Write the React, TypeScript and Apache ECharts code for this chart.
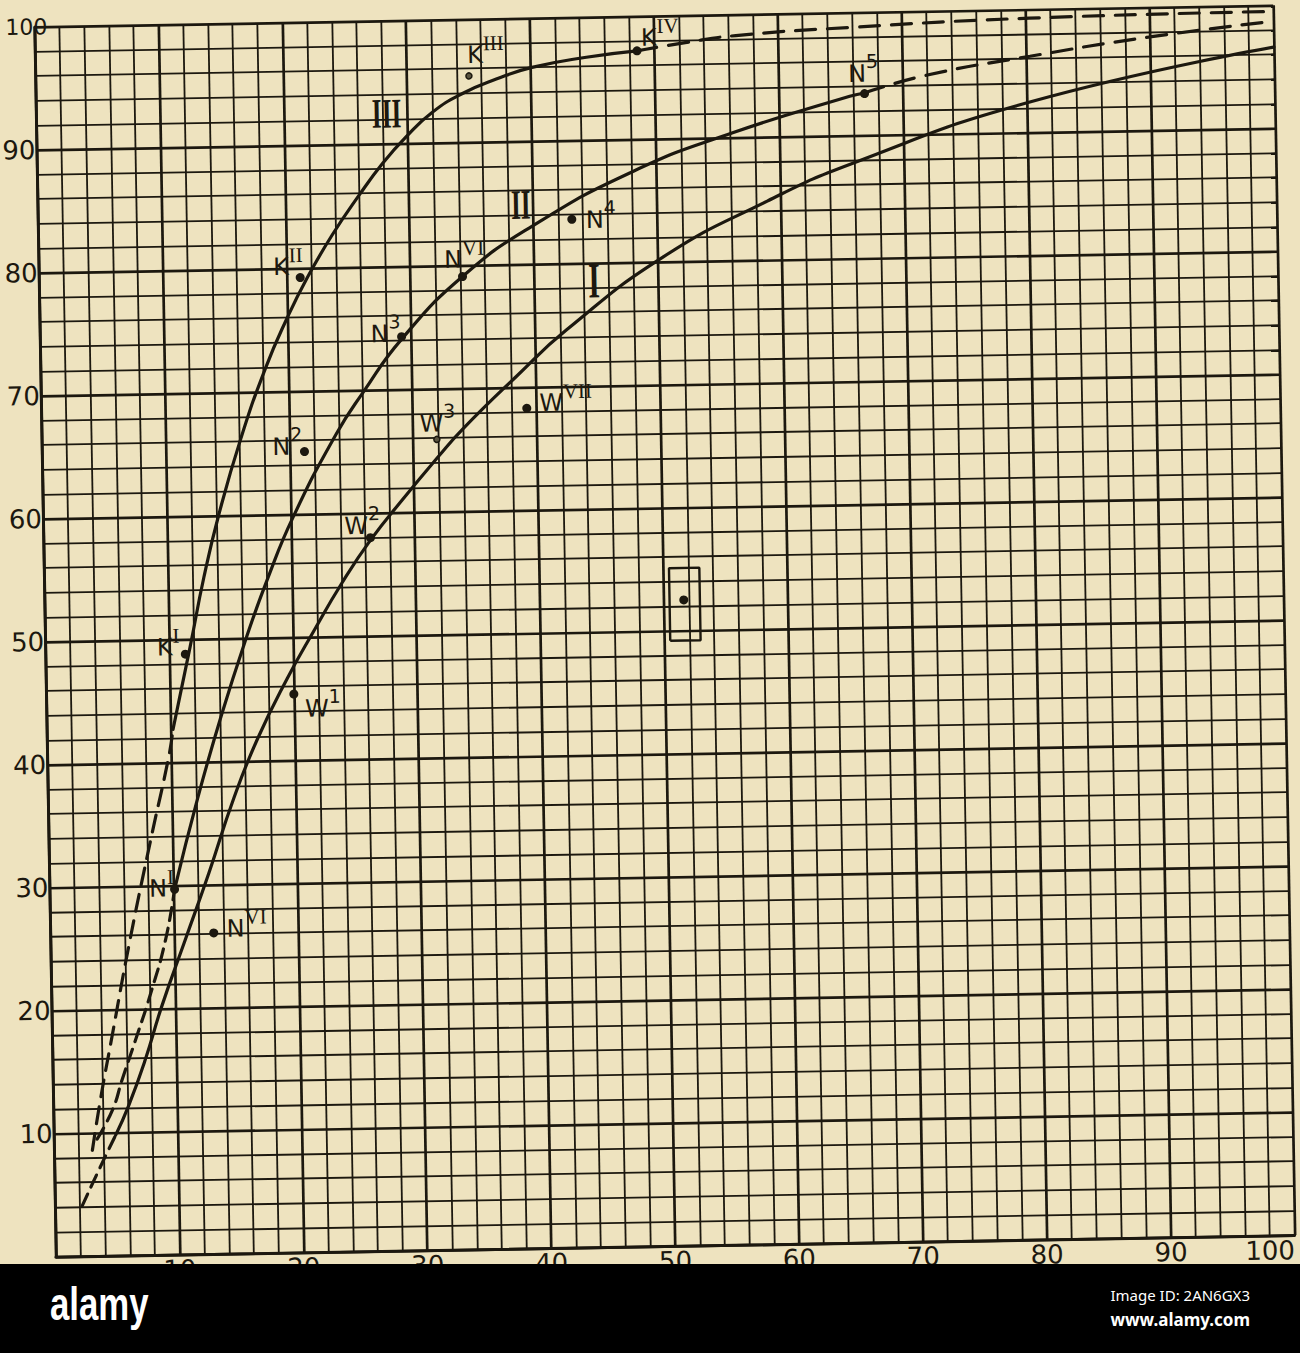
import React, { useEffect, useRef } from "react";
import * as echarts from "echarts";

// ---------- data ----------
const AXIS_MIN = 0;
const AXIS_MAX = 100;
const AXIS_STEP = 10;

// curve III
const CURVE_III_SOLID: [number, number][] = [
  [10.2, 42.7], [11.7, 49.4], [12.9, 55.0], [14.2, 60.1], [16.1, 66.3], [18.2, 72.0],
  [20.0, 76.0], [21.6, 79.1], [23.7, 82.6], [26.0, 85.9], [27.9, 88.4], [29.8, 90.5],
  [32.0, 92.5], [34.5, 94.0], [37.2, 95.1], [40.1, 96.0], [44.5, 96.75], [48.6, 97.2],
];
const CURVE_III_DASH_LOW: [number, number][] = [
  [3.1, 8.6], [3.8, 12.6], [4.8, 17.6], [6.4, 25.5], [8.3, 34.0], [9.8, 40.4], [10.2, 42.7],
];
const CURVE_III_DASH_HIGH: [number, number][] = [
  [48.6, 97.2], [52.5, 97.8], [56.6, 98.3], [65.8, 98.8], [80.3, 99.3], [100, 99.5],
];

// curve II
const CURVE_II_SOLID: [number, number][] = [
  [10.1, 29.7], [12.1, 37.1], [14.1, 43.7], [16.3, 50.2], [18.0, 54.7], [20.2, 59.8],
  [23.8, 66.5], [26.0, 69.8], [29.2, 74.1], [34.2, 79.1], [39.9, 83.1], [48.1, 87.4],
  [56.2, 90.4], [65.7, 93.2], [66.9, 93.45],
];
const CURVE_II_DASH_LOW: [number, number][] = [
  [3.5, 9.5], [4.8, 11.9], [5.6, 14.3], [6.7, 17.4], [8.1, 21.5], [9.3, 25.6], [10.1, 29.7],
];
const CURVE_II_DASH_HIGH: [number, number][] = [
  [66.9, 93.45], [71.9, 94.8], [80.3, 96.2], [90.0, 97.6], [100, 98.7],
];

// curve I
const CURVE_I_SOLID: [number, number][] = [
  [5.0, 9.8], [6.1, 12.2], [7.5, 15.9], [8.9, 20.2], [10.9, 25.6], [12.9, 31.0],
  [15.0, 37.0], [17.0, 41.8], [19.5, 46.7], [21.7, 50.5], [24.0, 54.3], [26.4, 57.8],
  [29.0, 61.0], [32.0, 64.5], [34.0, 66.7], [38.4, 70.9], [42.5, 74.6], [50.4, 80.4],
  [58.9, 84.8], [65.7, 87.7], [80.3, 92.5], [100, 96.6],
];
const CURVE_I_DASH_LOW: [number, number][] = [[2.2, 4.1], [3.6, 7.0], [5.0, 9.8]];

// observation points
const POINT_LETTER = ["K", "K", "K", "K", "N", "N", "N", "N", "N", "N", "N", "W", "W", "W", "W", ""];
const POINT_SUP = ["I", "II", "III", "IV", "I", "VI", "2", "3", "VI", "4", "5", "1", "2", "3", "VII", ""];
const POINT_X = [11.3, 21.1, 35.0, 48.6, 10.1, 13.2, 21.2, 29.2, 34.2, 43.1, 66.9, 20.0, 26.4, 31.9, 39.2, 51.6];
const POINT_Y = [48.8, 79.25, 95.4, 97.2, 29.7, 26.1, 65.1, 74.3, 79.1, 83.6, 93.4, 45.4, 58.0, 65.9, 68.3, 52.5];

// small framed rectangle around the lone point
const BOX_X = [50.45, 52.9];
const BOX_Y = [49.2, 55.1];

// curve names
const CURVE_LABEL_TEXT = ["III", "II", "I"];
const CURVE_LABEL_X = [28.3, 39.0, 44.8];
const CURVE_LABEL_Y = [92.5, 84.9, 78.6];

// ---------- styles / layout (kept apart from data) ----------
const PAPER = "#EEE3BF";
const INK = "#1c180f";
const LABEL_OFFSET: [number, number][] = [
  [-17, -15], [-12, -19], [17, -29], [23, -21], [-13, -9], [33, -12], [-17, -13], [-16, -11],
  [2, -25], [29, -7], [-1, -28], [29, 7], [-8, -20], [1, -24], [39, -13], [0, 0],
];
const SMALL_DOT = [false, false, true, false, false, false, false, false, false, false, false, false, false, true, false, false];
const CURVE_LABEL_SIZE = [42, 42, 50];

function axis(isX: boolean) {
  return {
    type: "value",
    min: AXIS_MIN,
    max: AXIS_MAX,
    interval: AXIS_STEP,
    axisLine: { show: true, onZero: false, lineStyle: { color: INK, width: 3 } },
    axisTick: { show: false },
    axisLabel: {
      show: true,
      color: INK,
      fontFamily: "DejaVu Sans",
      fontSize: 26,
      margin: isX ? 2 : 1,
      alignMaxLabel: isX ? "right" : undefined,
      formatter: (v: number) => {
        if (v === 0) return "";
        if (!isX && v === AXIS_MAX) return `{top|${v}}`;
        return String(v);
      },
      rich: {
        top: { fontFamily: "DejaVu Sans", fontSize: 22, color: INK, width: 28, align: "left" },
      },
    },
    splitLine: { show: true, lineStyle: { color: INK, width: 2.7 } },
    minorTick: { show: false, splitNumber: 5 },
    minorSplitLine: { show: true, lineStyle: { color: INK, width: 1.8 } },
  };
}

function lineSeries(name: string, data: [number, number][], dash?: number[]) {
  return {
    type: "line",
    name,
    data,
    symbol: "none",
    showSymbol: false,
    smooth: 0.5,
    silent: true,
    clip: false,
    lineStyle: { color: INK, width: 3.2, type: dash ? dash : "solid", cap: "round", opacity: 1 },
    z: 3,
  };
}

function buildMainOption() {
  const points = POINT_X.map((x, i) => ({
    value: [x, POINT_Y[i]],
    letter: POINT_LETTER[i],
    sup: POINT_SUP[i],
    symbolSize: SMALL_DOT[i] ? 6 : 9,
    itemStyle: SMALL_DOT[i]
      ? { color: "#5a5440", borderColor: INK, borderWidth: 1.5, opacity: 1 }
      : { color: INK, opacity: 1 },
    label: { offset: [LABEL_OFFSET[i][0], LABEL_OFFSET[i][1] + 3] },
  }));

  const box: [number, number][] = [
    [BOX_X[0], BOX_Y[0]],
    [BOX_X[1], BOX_Y[0]],
    [BOX_X[1], BOX_Y[1]],
    [BOX_X[0], BOX_Y[1]],
    [BOX_X[0], BOX_Y[0]],
  ];

  const richBase = { color: INK, textBorderWidth: 0, textShadowBlur: 0 };

  return {
    animation: false,
    backgroundColor: "transparent",
    grid: { left: 45, top: 16, width: 1239, height: 1230 },
    xAxis: axis(true),
    yAxis: axis(false),
    series: [
      lineSeries("III", CURVE_III_SOLID),
      lineSeries("III low", CURVE_III_DASH_LOW, [17, 10]),
      lineSeries("III high", CURVE_III_DASH_HIGH, [20, 12]),
      lineSeries("II", CURVE_II_SOLID),
      lineSeries("II low", CURVE_II_DASH_LOW, [13, 8]),
      lineSeries("II high", CURVE_II_DASH_HIGH, [20, 12]),
      lineSeries("I", CURVE_I_SOLID),
      lineSeries("I low", CURVE_I_DASH_LOW, [13, 8]),
      {
        type: "line",
        name: "box",
        data: box,
        symbol: "none",
        smooth: false,
        silent: true,
        lineStyle: { color: INK, width: 2.4 },
        z: 3,
      },
      {
        type: "scatter",
        name: "points",
        data: points,
        z: 5,
        silent: true,
        label: {
          show: true,
          position: "inside",
          color: INK,
          textBorderWidth: 0,
          opacity: 1,
          formatter: (p: any) => {
            const d = p.data;
            if (!d.letter) return "";
            const st = /^\d+$/.test(d.sup) ? "d" : "r";
            return `{b|${d.letter}}{${st}|${d.sup}}`;
          },
          rich: {
            b: { ...richBase, fontFamily: "DejaVu Sans", fontSize: 24, lineHeight: 34, verticalAlign: "bottom" },
            r: { ...richBase, fontFamily: "Liberation Serif", fontSize: 21, lineHeight: 20, verticalAlign: "top" },
            d: { ...richBase, fontFamily: "DejaVu Sans", fontSize: 19, lineHeight: 20, verticalAlign: "top" },
          },
        },
      },
    ],
  };
}

function buildBarOption() {
  return {
    animation: false,
    backgroundColor: "#000",
    graphic: [
      { type: "rect", left: 0, top: 0, shape: { x: 0, y: 0, width: 1300, height: 89 }, style: { fill: "#000" } },
      {
        type: "text",
        x: 50,
        y: 40,
        scaleX: 0.74,
        style: {
          text: "alamy",
          fill: "#fff",
          font: 'bold 47px "Liberation Sans"',
          textAlign: "left",
          align: "left",
          textVerticalAlign: "middle",
          verticalAlign: "middle",
        },
      },
      {
        type: "text",
        x: 1250,
        y: 31,
        style: {
          text: "Image ID: 2AN6GX3",
          fill: "#fff",
          font: '15px "Noto Sans"',
          textAlign: "right",
          align: "right",
          textVerticalAlign: "middle",
          verticalAlign: "middle",
        },
      },
      {
        type: "text",
        x: 1250,
        y: 55,
        style: {
          text: "www.alamy.com",
          fill: "#fff",
          font: 'bold 17px "Noto Sans"',
          textAlign: "right",
          align: "right",
          textVerticalAlign: "middle",
          verticalAlign: "middle",
        },
      },
    ],
  };
}

export default function App() {
  const mainRef = useRef<HTMLDivElement>(null);
  const barRef = useRef<HTMLDivElement>(null);

  useEffect(() => {
    const chart = echarts.init(mainRef.current as HTMLDivElement, null, { renderer: "svg" });
    chart.setOption(buildMainOption() as any);
    const labels = CURVE_LABEL_TEXT.map((t, i) => {
      const pt = chart.convertToPixel({ gridIndex: 0 } as any, [CURVE_LABEL_X[i], CURVE_LABEL_Y[i]]) as number[];
      return {
        type: "text",
        x: pt[0],
        y: pt[1],
        scaleX: 0.6,
        z: 10,
        silent: true,
        style: {
          text: t,
          fill: INK,
          font: `bold ${CURVE_LABEL_SIZE[i]}px "Liberation Serif"`,
          textAlign: "center",
          align: "center",
          textVerticalAlign: "middle",
          verticalAlign: "middle",
        },
      };
    });
    chart.setOption({ graphic: labels } as any);

    const bar = echarts.init(barRef.current as HTMLDivElement, null, { renderer: "svg" });
    bar.setOption(buildBarOption() as any);

    return () => {
      chart.dispose();
      bar.dispose();
    };
  }, []);

  return (
    <div
      style={{
        position: "absolute",
        left: 0,
        top: 0,
        width: 1300,
        height: 1353,
        overflow: "hidden",
        background: PAPER,
      }}
    >
      <div
        ref={mainRef}
        style={{
          position: "absolute",
          left: 0,
          top: 0,
          width: 1300,
          height: 1353,
          transform: "rotate(-1deg)",
          transformOrigin: "664.5px 631px",
        }}
      />
      <div ref={barRef} style={{ position: "absolute", left: 0, top: 1264, width: 1300, height: 89 }} />
    </div>
  );
}
